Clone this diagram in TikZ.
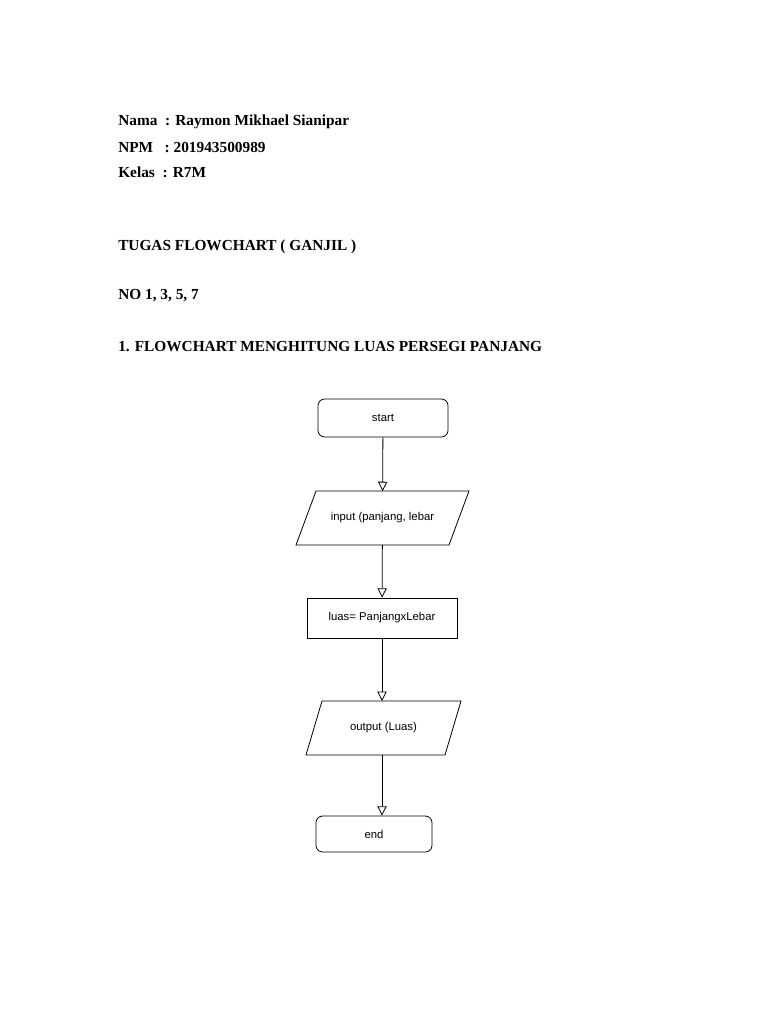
\documentclass[tikz,border=0pt]{standalone}
\usepackage{fontspec}
\setmainfont{Liberation Serif}
\newfontfamily\flowfont{Liberation Sans}
\usetikzlibrary{arrows.meta}
\begin{document}
\begin{tikzpicture}[x=0.75pt,y=-0.75pt,
  hdr/.style={anchor=west,inner sep=0,font=\fontsize{11.5}{13}\selectfont\bfseries},
  box/.style={draw,line width=0.6pt,font=\flowfont\fontsize{8.5}{10}\selectfont},
  lbl/.style={font=\flowfont\fontsize{8.5}{10}\selectfont},
  conn/.style={line width=0.6pt,-{Triangle[open,length=7pt,width=7pt]}}]
\useasboundingbox[fill=white] (0,0) rectangle (768,1024);
\node[hdr] (h1) at (118,122) {Nama\ \ : Raymon Mikhael Sianipar};
\node[hdr] (h2) at (118,148) {NPM\ \ \ : 201943500989};
\node[hdr] (h3) at (118,172) {Kelas\ \ : R7M};
\node[hdr] (h4) at (118,247) {TUGAS FLOWCHART ( GANJIL )};
\node[hdr] (h5) at (118,296) {NO 1, 3, 5, 7};
\node[hdr] (h6) at (118,347) {1. FLOWCHART MENGHITUNG LUAS PERSEGI PANJANG};
\node[box,rounded corners=5pt,minimum width=97.5pt,minimum height=28.5pt] (start) at (383,418) {start};
\draw[line width=0.6pt] (316,491) -- (469,491) -- (449,545) -- (296,545) -- cycle;
\node[lbl,minimum width=115pt,minimum height=40pt] (input) at (382.5,518) {input (panjang, lebar};
\node[box,minimum width=112.5pt,minimum height=30pt] (luas) at (382,618) {luas= PanjangxLebar};
\draw[line width=0.6pt] (322,701) -- (461,701) -- (445,755) -- (306,755) -- cycle;
\node[lbl,minimum width=104pt,minimum height=40pt] (output) at (383.5,728) {output (Luas)};
\node[box,rounded corners=5pt,minimum width=87pt,minimum height=27pt] (end) at (374,834) {end};
\draw[conn] (start) -- (input);
\draw[conn] (input) -- (luas);
\draw[conn] (luas.south -| 382,0) -- (382,701);
\draw[conn] (382,755) -- (end.north -| 382,0);
\end{tikzpicture}
\end{document}
